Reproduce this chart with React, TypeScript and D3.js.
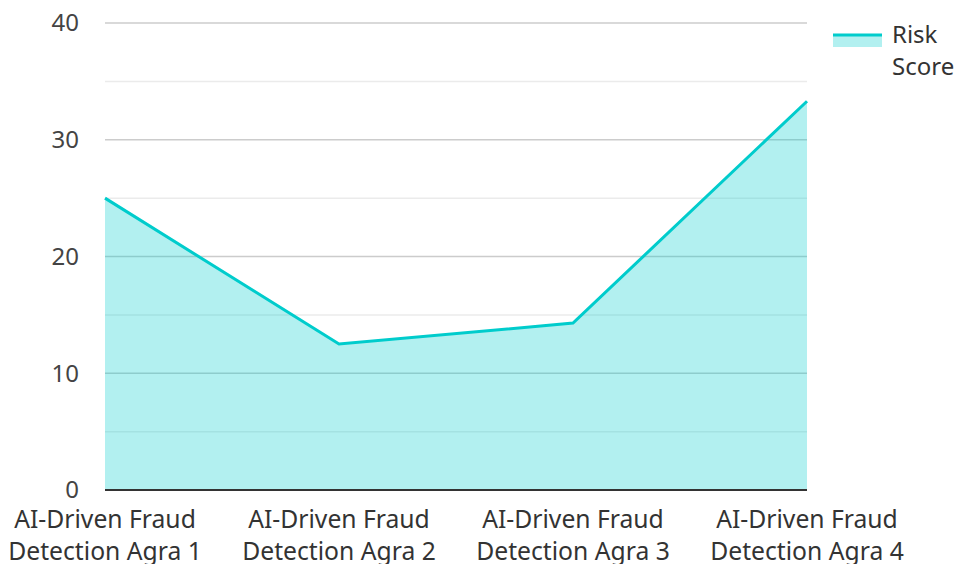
import React from 'react';
import * as d3 from 'd3';

const categories = [
  'AI-Driven Fraud Detection Agra 1',
  'AI-Driven Fraud Detection Agra 2',
  'AI-Driven Fraud Detection Agra 3',
  'AI-Driven Fraud Detection Agra 4',
];
const riskScore = [25, 12.5, 14.3, 33.3];
const majorTicks = [0, 10, 20, 30, 40];
const minorTicks = [5, 15, 25, 35];

const W = 956, H = 564;
const margin = { top: 23, right: 149, bottom: 74, left: 105 };
const innerW = W - margin.left - margin.right;
const innerH = H - margin.top - margin.bottom;
const color = '#00cccc';
const font = '"Noto Sans", "Open Sans", sans-serif';
const fs = 24;

const splitLabel = (s: string) => {
  const i = s.indexOf(' Detection');
  return [s.slice(0, i), s.slice(i + 1)];
};

export default function App() {
  const x = d3.scalePoint<string>().domain(categories).range([0, innerW]);
  const y = d3.scaleLinear().domain([0, 40]).range([innerH, 0]);

  const pts = categories.map((c, i) => ({ c, v: riskScore[i] }));
  const line = d3.line<{ c: string; v: number }>().x(d => x(d.c)!).y(d => y(d.v))(pts)!;
  const area = d3.area<{ c: string; v: number }>().x(d => x(d.c)!).y0(y(0)).y1(d => y(d.v))(pts)!;

  return (
    <svg width={W} height={H} style={{ position: 'absolute', left: 0, top: 0 }} fontFamily={font}>
      <g transform={`translate(${margin.left},${margin.top})`}>
        {minorTicks.map(t => (
          <line key={'m' + t} x1={0} x2={innerW} y1={y(t)} y2={y(t)} stroke="#ebebeb" strokeWidth={1.5} />
        ))}
        {majorTicks.filter(t => t > 0).map(t => (
          <line key={'M' + t} x1={0} x2={innerW} y1={y(t)} y2={y(t)} stroke="#cccccc" strokeWidth={1.5} />
        ))}
        <path d={area} fill={color} fillOpacity={0.3} />
        <path d={line} fill="none" stroke={color} strokeWidth={3} />
        <line x1={0} x2={innerW} y1={y(0)} y2={y(0)} stroke="#333" strokeWidth={2} />
        {majorTicks.map(t => (
          <text key={'t' + t} x={-26} y={y(t)} dy="0.35em" textAnchor="end" fontSize={fs} fill="#444">
            {t}
          </text>
        ))}
        {categories.map(c => {
          const [a, b] = splitLabel(c);
          return (
            <text key={c} x={x(c)} y={innerH} textAnchor="middle" fontSize={24.7} fill="#333">
              <tspan x={x(c)} dy={38}>{a}</tspan>
              <tspan x={x(c)} dy={32}>{b}</tspan>
            </text>
          );
        })}
      </g>
      <g transform="translate(833,35)">
        <rect x={0} y={0} width={49} height={12} fill={color} fillOpacity={0.3} />
        <line x1={0} x2={49} y1={0} y2={0} stroke={color} strokeWidth={3} />
        <text x={59} y={0} dy="0.35em" fontSize={fs} fill="#333">Risk</text>
        <text x={59} y={32} dy="0.35em" fontSize={fs} fill="#333">Score</text>
      </g>
    </svg>
  );
}
